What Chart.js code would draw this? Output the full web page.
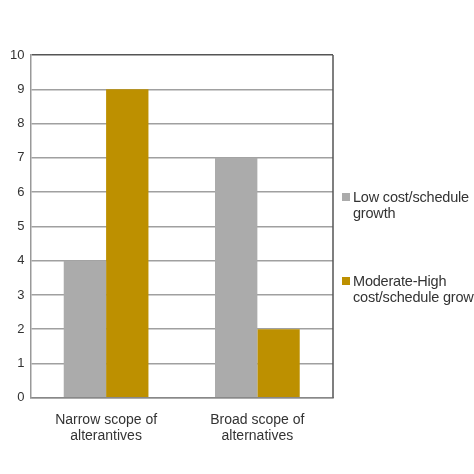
<!DOCTYPE html>
<html><head><meta charset="utf-8">
<script src="https://cdn.jsdelivr.net/npm/chart.js@4"></script>
<style>
html,body{margin:0;padding:0;background:#fff;overflow:hidden;width:474px;height:474px;}
#wrap{position:relative;width:474px;height:474px;overflow:hidden;}
.leg{position:absolute;font-family:"Liberation Sans",Arial,sans-serif;font-size:14.5px;color:#333;line-height:16px;white-space:nowrap;letter-spacing:-0.2px;}
.sw{display:inline-block;width:8px;height:8px;margin-right:3px;vertical-align:1px;}
</style></head>
<body><div id="wrap"><canvas id="c" width="474" height="474"></canvas>
<div id="legend"></div></div>
<script>
const categories = [["Narrow scope of","alterantives"],["Broad scope of","alternatives"]];
const seriesNames = ["Low cost/schedule growth","Moderate-High cost/schedule growth"];
const legendLines = [["Low cost/schedule","growth"],["Moderate-High","cost/schedule growth"]];
const lowGrowth = [4, 7];
const modHighGrowth = [9, 2];
const yTicks = [0,1,2,3,4,5,6,7,8,9,10];
const colors = ["#ababab","#bd9000"];

const frame = {
  id:'frame',
  afterDraw(chart){
    const {ctx, chartArea:a} = chart;
    ctx.save();
    ctx.strokeStyle='#555'; ctx.lineWidth=1.5;
    ctx.beginPath(); ctx.moveTo(a.right,a.top); ctx.lineTo(a.right,a.bottom); ctx.stroke();
    ctx.restore();
  }
};

const chart = new Chart(document.getElementById('c'), {
  type:'bar',
  data:{labels:categories, datasets:[
    {label:seriesNames[0], data:lowGrowth, backgroundColor:colors[0], barPercentage:1, categoryPercentage:0.56},
    {label:seriesNames[1], data:modHighGrowth, backgroundColor:colors[1], barPercentage:1, categoryPercentage:0.56}
  ]},
  options:{
    responsive:false, animation:false,
    layout:{padding:{top:55,right:141,bottom:24,left:4}},
    plugins:{legend:{display:false},tooltip:{enabled:false}},
    scales:{
      x:{grid:{display:false},border:{color:'#888',width:1.5},
         ticks:{color:'#333',font:{family:'"Liberation Sans", Arial, sans-serif',size:14,lineHeight:1.15},padding:6}},
      y:{min:0,max:10,afterBuildTicks(ax){ax.ticks=yTicks.map(v=>({value:v}));},
         grid:{color:(c)=>c.tick && c.tick.value===10?'#555':'#a0a0a0',lineWidth:1.5,drawTicks:false},
         border:{color:'#999',width:1.5},
         ticks:{color:'#333',font:{family:'"Liberation Sans", Arial, sans-serif',size:13},padding:6}}
    }
  },
  plugins:[frame]
});

const leg = document.getElementById('legend');
const a = chart.chartArea;
const tops = [189, 273];
legendLines.forEach((lines,i)=>{
  const d = document.createElement('div');
  d.className='leg';
  d.style.left = (a.right+9)+'px';
  d.style.top = tops[i]+'px';
  d.innerHTML = '<span class="sw" style="background:'+colors[i]+'"></span>'+lines[0]+'<br><span style="display:inline-block;width:11px"></span>'+lines[1];
  leg.appendChild(d);
});
</script></body></html>
